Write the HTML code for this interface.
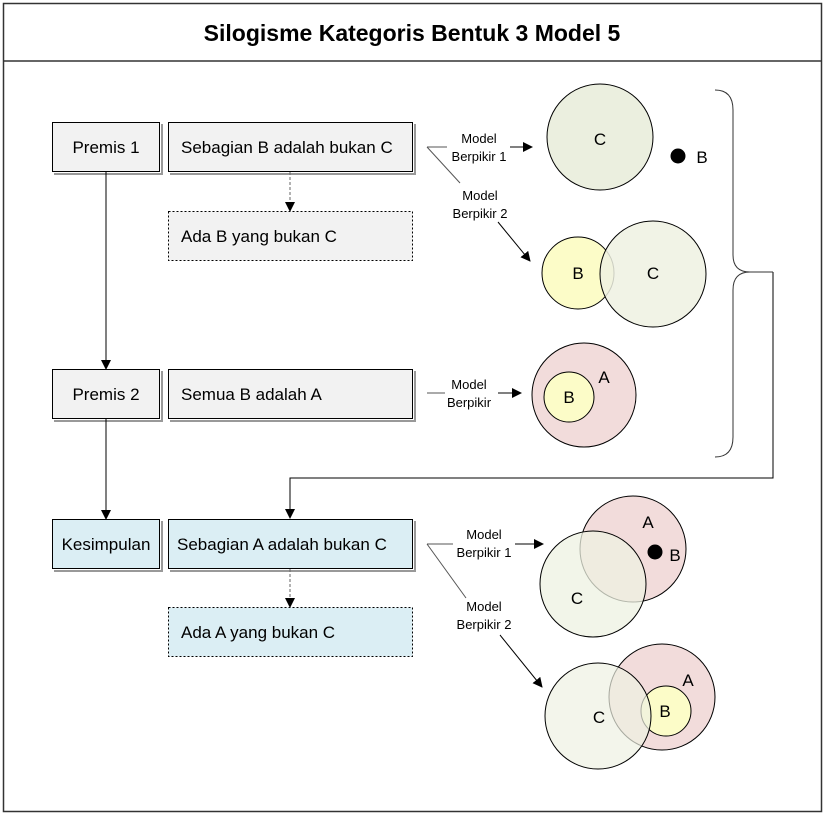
<!DOCTYPE html>
<html><head><meta charset="utf-8"><style>
html,body{margin:0;padding:0;background:#fff;}
svg{display:block;font-family:"Liberation Sans",sans-serif;}
</style></head><body>
<svg width="824" height="817" viewBox="0 0 824 817" xmlns="http://www.w3.org/2000/svg">
<defs>
<marker id="ar" markerWidth="10" markerHeight="10" refX="9" refY="5" orient="auto" markerUnits="userSpaceOnUse"><path d="M0,0 L10,5 L0,10 z" fill="#000"/></marker>
</defs>
<rect x="3.5" y="3.5" width="818" height="808" fill="#fff" stroke="#333" stroke-width="1.5"/>
<line x1="3" y1="61" x2="822" y2="61" stroke="#333" stroke-width="1.5"/>
<text x="412" y="41" text-anchor="middle" font-size="23" font-weight="bold">Silogisme Kategoris Bentuk 3 Model 5</text>

<g stroke="#999" stroke-width="2" fill="none">
<path d="M162,124 V174 H54"/><path d="M415,124 V174 H170"/>
<path d="M162,371 V421 H54"/><path d="M415,371 V421 H170"/>
<path d="M162,521 V571 H54"/><path d="M415,521 V571 H170"/>
</g>
<g stroke="#000" stroke-width="1" font-size="17">
<rect x="52.5" y="122.5" width="107" height="49" fill="#f2f2f2"/>
<rect x="168.5" y="122.5" width="244" height="49" fill="#f2f2f2"/>
<rect x="168.5" y="211.5" width="244" height="49" fill="#f2f2f2" stroke-dasharray="2,2"/>
<rect x="52.5" y="369.5" width="107" height="49" fill="#f2f2f2"/>
<rect x="168.5" y="369.5" width="244" height="49" fill="#f2f2f2"/>
<rect x="52.5" y="519.5" width="107" height="49" fill="#dbeef4"/>
<rect x="168.5" y="519.5" width="244" height="49" fill="#dbeef4"/>
<rect x="168.5" y="607.5" width="244" height="49" fill="#dbeef4" stroke-dasharray="2,2"/>
</g>
<g font-size="17" fill="#000">
<text x="106" y="153" text-anchor="middle">Premis 1</text>
<text x="181" y="153">Sebagian B adalah bukan C</text>
<text x="181" y="242">Ada B yang bukan C</text>
<text x="106" y="400" text-anchor="middle">Premis 2</text>
<text x="181" y="400">Semua B adalah A</text>
<text x="106" y="550" text-anchor="middle">Kesimpulan</text>
<text x="177" y="550">Sebagian A adalah bukan C</text>
<text x="181" y="638">Ada A yang bukan C</text>
</g>

<g stroke="#000" stroke-width="1" fill="none">
<line x1="106" y1="172" x2="106" y2="369" marker-end="url(#ar)"/>
<line x1="106" y1="419" x2="106" y2="519" marker-end="url(#ar)"/>
<line x1="290" y1="172" x2="290" y2="211" stroke="#666" stroke-dasharray="3,2" marker-end="url(#ar)"/>
<line x1="290" y1="569" x2="290" y2="607" stroke="#666" stroke-dasharray="3,2" marker-end="url(#ar)"/>
<path d="M773,272 V478 H290 V518" marker-end="url(#ar)"/>
<path d="M715,90 Q733,90 733,110 V255 Q733,272 750,272 H773 M750,272 Q733,272 733,290 V437 Q733,457 715,457" stroke="#333"/>
<line x1="427" y1="147" x2="447" y2="147" stroke="#555"/>
<line x1="510" y1="147" x2="532" y2="147" marker-end="url(#ar)"/>
<line x1="427" y1="147" x2="460" y2="183" stroke="#555"/>
<line x1="498" y1="222" x2="530" y2="261" marker-end="url(#ar)"/>
<line x1="427" y1="393" x2="445" y2="393" stroke="#555"/>
<line x1="498" y1="393" x2="521" y2="393" marker-end="url(#ar)"/>
<line x1="427" y1="544" x2="453" y2="544" stroke="#555"/>
<line x1="515" y1="544" x2="543" y2="544" marker-end="url(#ar)"/>
<line x1="427" y1="544" x2="466" y2="598" stroke="#555"/>
<line x1="500" y1="635" x2="542" y2="687" marker-end="url(#ar)"/>
</g>
<g font-size="13" text-anchor="middle" fill="#000">
<text x="479" y="143">Model</text><text x="479" y="161">Berpikir 1</text>
<text x="480" y="200">Model</text><text x="480" y="218">Berpikir 2</text>
<text x="469" y="389">Model</text><text x="469" y="407">Berpikir</text>
<text x="484" y="539">Model</text><text x="484" y="557">Berpikir 1</text>
<text x="484" y="611">Model</text><text x="484" y="629">Berpikir 2</text>
</g>

<g stroke="#000" stroke-width="1" font-size="17" fill="#000">
<circle cx="600" cy="137" r="53" fill="#ebefdf"/>
<circle cx="678" cy="156" r="7"/>
<circle cx="578" cy="273" r="36" fill="#fcfcc8"/>
<circle cx="653" cy="274" r="53" fill="#eef1e2" fill-opacity="0.85"/>
<circle cx="584" cy="395" r="52" fill="#f2dcdb"/>
<circle cx="569" cy="397" r="25" fill="#fcfcc8"/>
<circle cx="633" cy="549" r="53" fill="#f2dcdb"/>
<circle cx="655" cy="552" r="7"/>
<circle cx="593" cy="584" r="53" fill="#eef1e2" fill-opacity="0.75"/>
<circle cx="662" cy="697" r="53" fill="#f2dcdb"/>
<circle cx="666" cy="711" r="25" fill="#fcfcc8"/>
<circle cx="598" cy="716" r="53" fill="#eef1e2" fill-opacity="0.7"/>
</g>
<g font-size="17" fill="#000" text-anchor="middle">
<text x="600" y="145">C</text><text x="702" y="163">B</text>
<text x="578" y="279">B</text><text x="653" y="279">C</text>
<text x="604" y="383">A</text><text x="569" y="403">B</text>
<text x="648" y="528">A</text><text x="675" y="561">B</text><text x="577" y="604">C</text>
<text x="688" y="686">A</text><text x="665" y="717">B</text><text x="599" y="723">C</text>
</g>
</svg>
</body></html>
